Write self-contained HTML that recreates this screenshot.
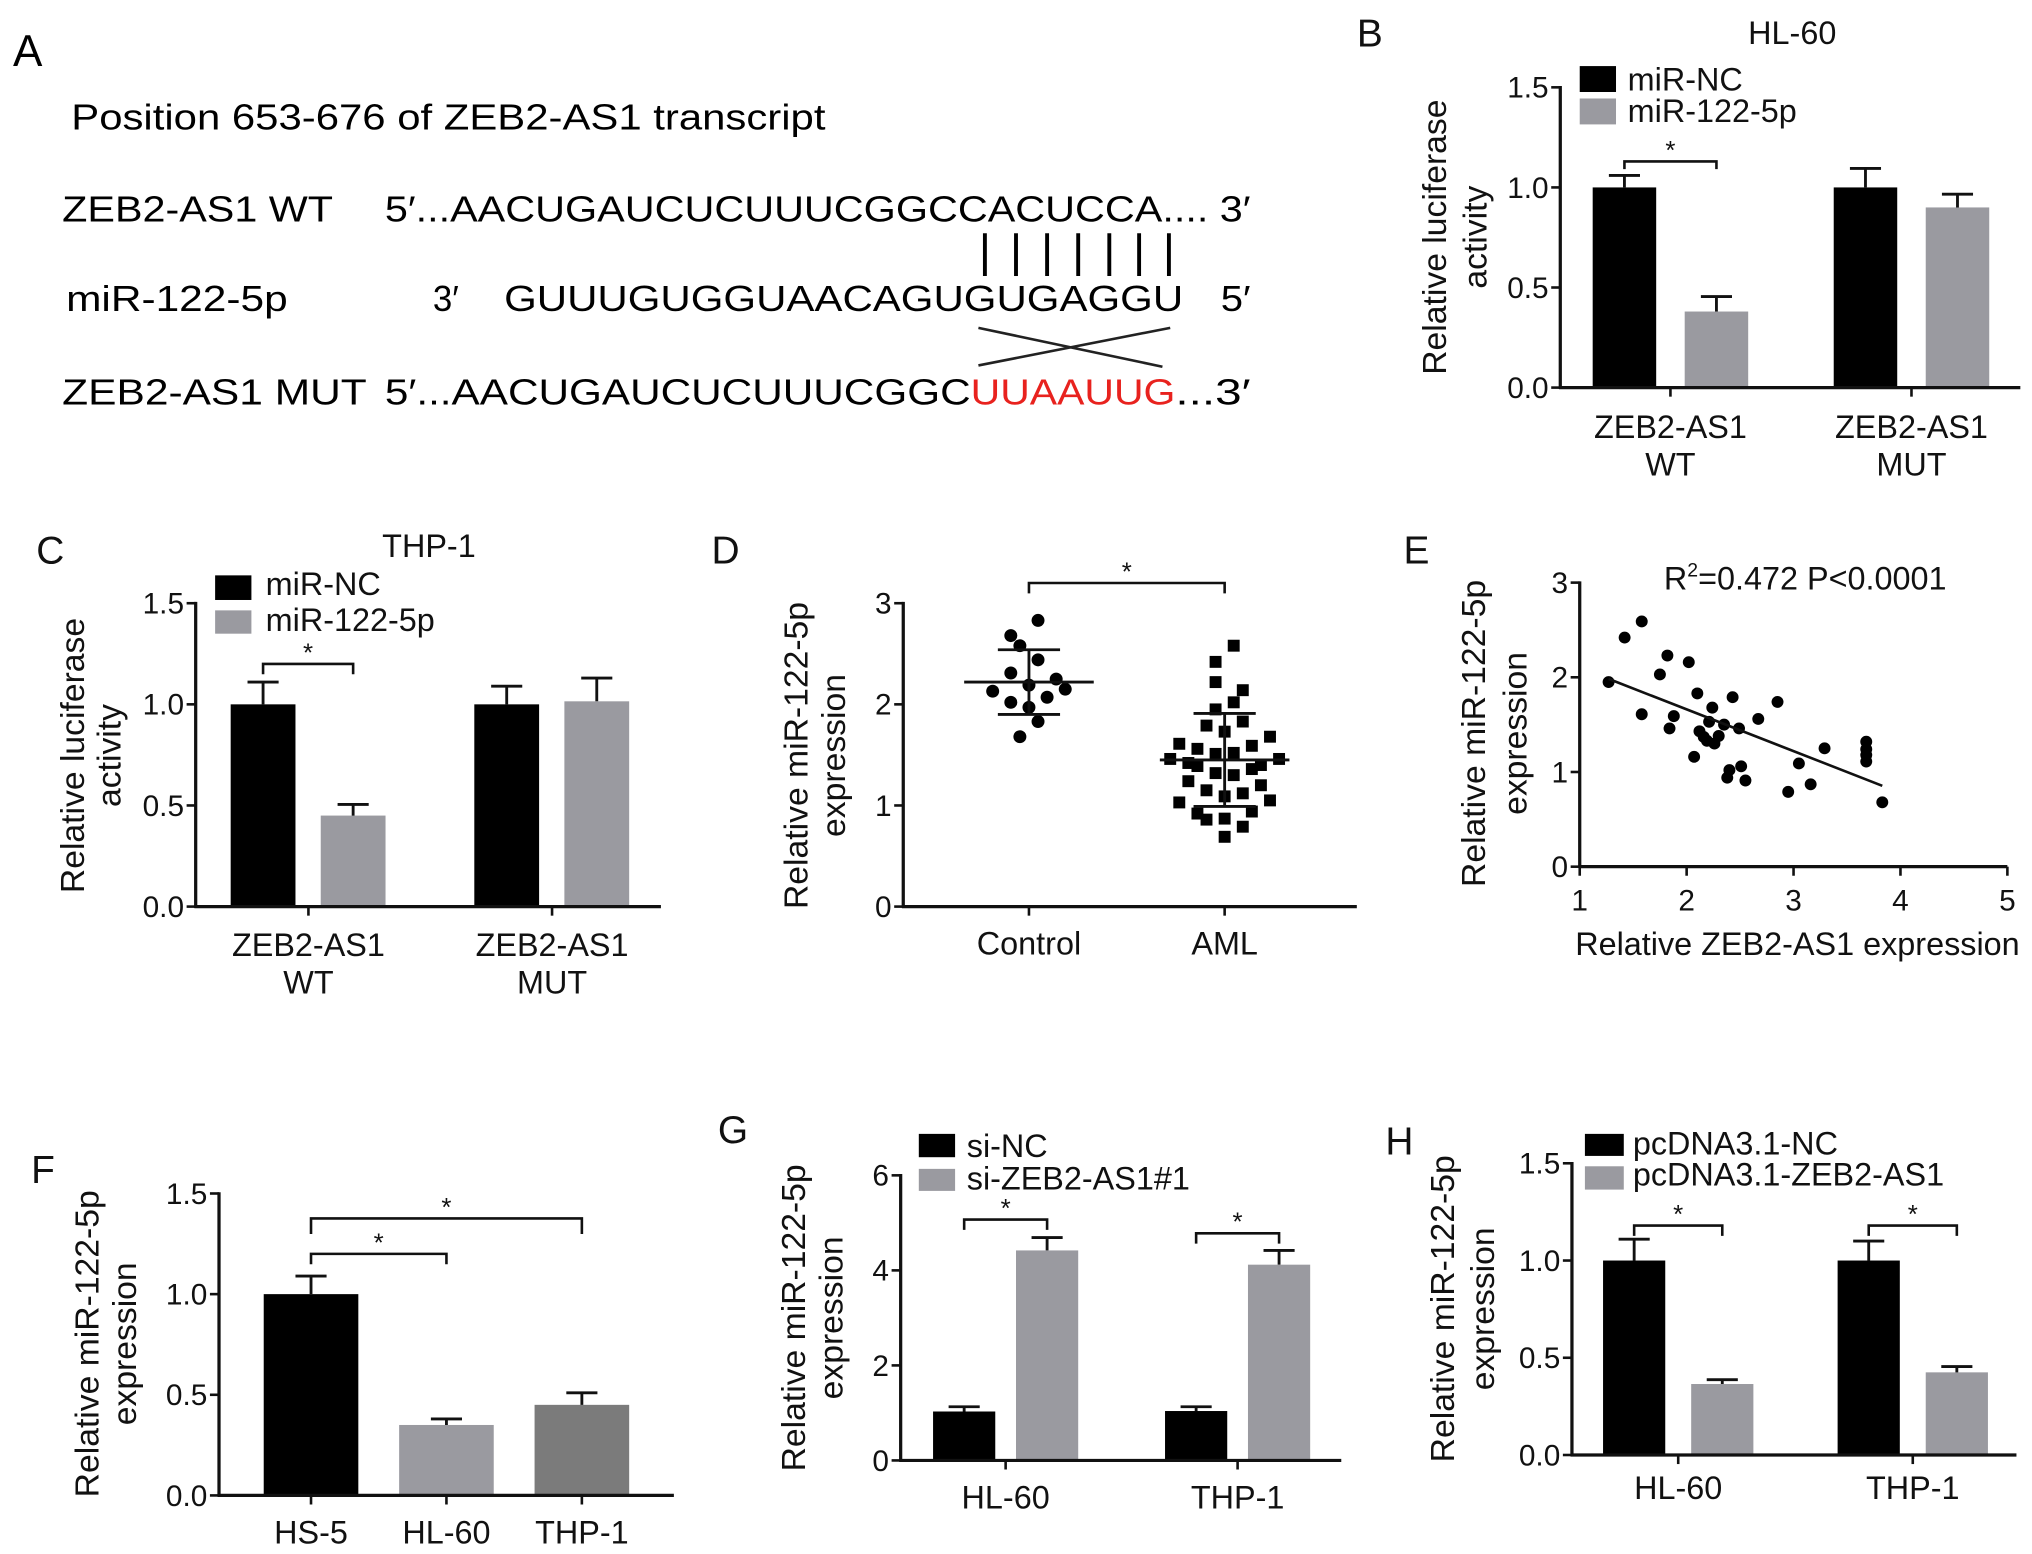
<!DOCTYPE html>
<html><head><meta charset="utf-8"><style>
html,body{margin:0;padding:0;background:#fff;}
svg{display:block;font-family:"Liberation Sans",Arial,sans-serif;}
</style></head><body>
<svg id="fig" width="2032" height="1554" viewBox="0 0 1568 1199.2" preserveAspectRatio="none" xmlns="http://www.w3.org/2000/svg">
<rect x="0" y="0" width="1568" height="1200" fill="#fff"/>
<g id="panel-a" fill="#000">
  <text x="10" y="51" font-size="34">A</text>
  <text x="55" y="100" font-size="28" textLength="582" lengthAdjust="spacingAndGlyphs">Position 653-676 of ZEB2-AS1 transcript</text>
  <text x="48" y="171" font-size="28" textLength="209" lengthAdjust="spacingAndGlyphs">ZEB2-AS1 WT</text>
  <text x="297" y="171" font-size="28" textLength="668" lengthAdjust="spacingAndGlyphs">5′...AACUGAUCUCUUUCGGCCACUCCA.... 3′</text>
  <g stroke="#000" stroke-width="3">
    <line x1="760" y1="180" x2="760" y2="213"/><line x1="784" y1="180" x2="784" y2="213"/><line x1="808" y1="180" x2="808" y2="213"/><line x1="832" y1="180" x2="832" y2="213"/><line x1="856" y1="180" x2="856" y2="213"/><line x1="879" y1="180" x2="879" y2="213"/><line x1="902" y1="180" x2="902" y2="213"/>
  </g>
  <text x="51" y="240" font-size="28" textLength="171" lengthAdjust="spacingAndGlyphs">miR-122-5p</text>
  <text x="334" y="240" font-size="28" textLength="20" lengthAdjust="spacingAndGlyphs">3′</text>
  <text x="389" y="240" font-size="28" textLength="524" lengthAdjust="spacingAndGlyphs">GUUUGUGGUAACAGUGUGAGGU</text>
  <text x="942" y="240" font-size="28" textLength="23" lengthAdjust="spacingAndGlyphs">5′</text>
  <g stroke="#222" stroke-width="2">
    <line x1="755" y1="253" x2="897" y2="283"/><line x1="755" y1="282" x2="903" y2="253"/>
  </g>
  <text x="48" y="312" font-size="28" textLength="235" lengthAdjust="spacingAndGlyphs">ZEB2-AS1 MUT</text>
  <text x="297" y="312" font-size="28" textLength="452" lengthAdjust="spacingAndGlyphs">5′...AACUGAUCUCUUUCGGC</text>
  <text x="749" y="312" font-size="28" fill="#e8221e" textLength="158" lengthAdjust="spacingAndGlyphs">UUAAUUG</text>
  <text x="907" y="312" font-size="28" textLength="58" lengthAdjust="spacingAndGlyphs">...3′</text>
</g>
<g id="charts"></g>
</svg>
<script>
// ---- data ----
const bCats = ['ZEB2-AS1|WT', 'ZEB2-AS1|MUT'];
const bNC = [1.0, 1.0];
const bNCerr = [0.06, 0.095];
const bMiR = [0.38, 0.90];
const bMiRerr = [0.075, 0.066];
const bTicks = [0, 0.5, 1.0, 1.5];
const bTickLabels = ['0.0', '0.5', '1.0', '1.5'];

const cCats = ['ZEB2-AS1|WT', 'ZEB2-AS1|MUT'];
const cNC = [1.0, 1.0];
const cNCerr = [0.11, 0.09];
const cMiR = [0.45, 1.015];
const cMiRerr = [0.055, 0.115];
const cTicks = [0, 0.5, 1.0, 1.5];
const cTickLabels = ['0.0', '0.5', '1.0', '1.5'];

const dCats = ['Control', 'AML'];
const dControl = [2.83, 2.68, 2.58, 2.44, 2.31, 2.25, 2.15, 2.13, 2.19, 2.07, 2.02, 1.97, 1.83, 1.68];
const dControlJitter = [1, -2, -1, 1, -2, 3, 4, -4, 0, 2, -2, 0, 1, -1];
const dAML = [2.58, 2.42, 2.22, 2.14, 2.02, 1.95, 1.79, 1.83, 1.73, 1.68, 1.61, 1.56, 1.59, 1.51, 1.52, 1.46, 1.42, 1.39, 1.46, 1.40, 1.36, 1.32, 1.30, 1.24, 1.20, 1.15, 1.09, 1.12, 1.05, 1.03, 0.92, 0.86, 0.87, 0.94, 0.79, 0.69];
const dAMLJitter = [1, -1, -1, 2, 1, -1, -2, 2, 0, 5, -5, -3, 3, -1, 1, -6, -4, -3, 6, 4, 3, -1, 1, -4, 4, -2, 0, 2, 5, -5, -3, -2, 0, 3, 2, 0];
const dMean = [2.22, 1.45];
const dSD = [0.32, 0.46];
const dTicks = [0, 1, 2, 3];

const eX = [1.58, 1.42, 1.82, 2.02, 1.75, 1.27, 2.10, 2.43, 2.24, 2.85, 1.58, 1.88, 2.67, 1.84, 2.21, 2.35, 2.49, 2.12, 2.16, 2.30, 2.19, 2.26, 3.29, 3.68, 3.68, 3.68, 3.68, 2.07, 3.05, 2.51, 2.40, 2.38, 2.55, 3.16, 2.95, 3.83];
const eY = [2.59, 2.42, 2.23, 2.16, 2.03, 1.95, 1.83, 1.79, 1.68, 1.74, 1.61, 1.59, 1.56, 1.46, 1.53, 1.50, 1.46, 1.43, 1.37, 1.38, 1.33, 1.30, 1.25, 1.32, 1.24, 1.18, 1.11, 1.16, 1.09, 1.06, 1.02, 0.94, 0.91, 0.87, 0.79, 0.68];
const eXTicks = [1, 2, 3, 4, 5];
const eYTicks = [0, 1, 2, 3];

const fCats = ['HS-5', 'HL-60', 'THP-1'];
const fVals = [1.0, 0.35, 0.45];
const fErr = [0.09, 0.03, 0.06];
const fTicks = [0, 0.5, 1.0, 1.5];
const fTickLabels = ['0.0', '0.5', '1.0', '1.5'];

const gCats = ['HL-60', 'THP-1'];
const gNC = [1.03, 1.04];
const gNCerr = [0.1, 0.09];
const gSi = [4.42, 4.12];
const gSiErr = [0.27, 0.3];
const gTicks = [0, 2, 4, 6];

const hCats = ['HL-60', 'THP-1'];
const hNC = [1.0, 1.0];
const hNCerr = [0.11, 0.10];
const hPc = [0.365, 0.425];
const hPcErr = [0.022, 0.03];
const hTicks = [0, 0.5, 1.0, 1.5];
const hTickLabels = ['0.0', '0.5', '1.0', '1.5'];

// ---- helpers ----
const NS = 'http://www.w3.org/2000/svg';
const root = document.getElementById('charts');
function el(tag, attrs, parent) {
  const e = document.createElementNS(NS, tag);
  for (const k in attrs) e.setAttribute(k, attrs[k]);
  (parent || root).appendChild(e);
  return e;
}
function linScale(d0, d1, r0, r1) { return v => r0 + (v - d0) * (r1 - r0) / (d1 - d0); }
const BLACK = '#000', GRAY = '#9a9aa0', DGRAY = '#7b7b7b';
const FS = 23, FS_LABEL = 25, FS_TITLE = 26, FS_LEG = 25;

function panelGroup(name) {
  const g = el('g', {});
  
  
  return g;
}
function txt(g, x, y, s, size, anchor, name, extra) {
  const t = el('text', Object.assign({x: x, y: y, 'font-size': size, 'text-anchor': anchor || 'start', fill: '#111'}, extra || {}), g);
  t.textContent = s;
  
  
  return t;
}
function line(g, x1, y1, x2, y2, w, name) {
  const l = el('line', {x1: x1, y1: y1, x2: x2, y2: y2, stroke: '#111', 'stroke-width': w}, g);
  
  
  return l;
}
function rotLabel(g, cx, cy, lines, name) {
  lines.forEach((s, i) => {
    const t = el('text', {transform: 'translate(' + (cx[i] + 9) + ',' + cy + ') rotate(-90)', 'font-size': FS_TITLE, 'text-anchor': 'middle', fill: '#111'}, g);
    t.textContent = s;
    
    
  });
}
function yAxis(g, ax, sy, ticks, labels, name) {
  line(g, ax, sy(ticks[ticks.length - 1]) - 1, ax, sy(ticks[0]) + 1, 2.5, name + '-y-axis');
  ticks.forEach((t, i) => {
    line(g, ax - 7, sy(t), ax, sy(t), 2, name + '-y-tick');
    txt(g, ax - 9, sy(t) + 8, labels[i], FS, 'end', name + '-y-tick-label');
  });
}
function xAxis(g, ax, xEnd, y0, centers, name) {
  line(g, ax - 1, y0, xEnd, y0, 2.5, name + '-x-axis');
  centers.forEach(c => line(g, c, y0, c, y0 + 7, 2, name + '-x-tick'));
}
function catLabels(g, centers, cats, y0, dy, name) {
  cats.forEach((c, i) => {
    c.split('|').forEach((s, j) => txt(g, centers[i], y0 + dy + j * 29, s, FS_LABEL, 'middle', name + '-x-label'));
  });
}
function bar(g, cx, w, v, err, sy, color, name) {
  const r = el('rect', {x: cx - w / 2, y: sy(v), width: w, height: sy(0) - sy(v), fill: color}, g);
  
  
  const eb = el('path', {d: 'M' + cx + ',' + sy(v) + 'V' + sy(v + err) + 'M' + (cx - 12) + ',' + sy(v + err) + 'H' + (cx + 12), stroke: '#111', 'stroke-width': 2.2, fill: 'none'}, g);
  
  
}
function bracket(g, x1, x2, yv, sy, drop1, drop2, name) {
  const y = sy(yv);
  const p = el('path', {d: 'M' + x1 + ',' + (y + drop1) + 'V' + y + 'H' + x2 + 'V' + (y + drop2), stroke: '#111', 'stroke-width': 2, fill: 'none'}, g);
  
  
  txt(g, (x1 + x2) / 2, y - 2, '*', 20, 'middle', name + '-star');
}
function legendEntry(g, x, y, w, h, color, tx, ty, s, name) {
  const r = el('rect', {x: x, y: y, width: w, height: h, fill: color}, g);
  
  
  txt(g, tx, ty, s, FS_LEG, 'start', name + '-label');
}

// ---- Panel B ----
(function () {
  const g = panelGroup('panel-b');
  const sy = linScale(0, 1.5, 299.1, 67.4);
  const centers = bCats.map((c, i) => 1289 + i * 186);
  txt(g, 1047, 36, 'B', 30, 'start', 'panel-b-letter');
  txt(g, 1383, 34, 'HL-60', FS_LABEL, 'middle', 'panel-b-title');
  legendEntry(g, 1219, 51, 28, 20, BLACK, 1256, 70, 'miR-NC', 'legend-mir-nc');
  legendEntry(g, 1219, 76, 28, 20, GRAY, 1256, 94, 'miR-122-5p', 'legend-mir-122');
  centers.forEach((c, i) => {
    bar(g, c - 35.5, 49, bNC[i], bNCerr[i], sy, BLACK, 'bar-mir-nc-' + i);
    bar(g, c + 35.5, 49, bMiR[i], bMiRerr[i], sy, GRAY, 'bar-mir-122-' + i);
  });
  yAxis(g, 1204, sy, bTicks, bTickLabels, 'panel-b');
  xAxis(g, 1204, 1559, sy(0), centers, 'panel-b');
  catLabels(g, centers, bCats, sy(0), 39, 'panel-b');
  bracket(g, centers[0] - 35.5, centers[0] + 35.5, 1.13, sy, 6, 6, 'panel-b-significance');
  rotLabel(g, [1107, 1138], 183, ['Relative luciferase', 'activity'], 'panel-b-y-title');
})();

// ---- Panel C ----
(function () {
  const g = panelGroup('panel-c');
  const sy = linScale(0, 1.5, 699.6, 465.5);
  const centers = cCats.map((c, i) => 238 + i * 188);
  txt(g, 28, 435, 'C', 30, 'start', 'panel-c-letter');
  txt(g, 331, 430, 'THP-1', FS_LABEL, 'middle', 'panel-c-title');
  legendEntry(g, 166, 444, 28, 19, BLACK, 205, 459, 'miR-NC', 'legend-mir-nc');
  legendEntry(g, 166, 471, 28, 18, GRAY, 205, 487, 'miR-122-5p', 'legend-mir-122');
  centers.forEach((c, i) => {
    bar(g, c - 35, 50, cNC[i], cNCerr[i], sy, BLACK, 'bar-mir-nc-' + i);
    bar(g, c + 34.5, 50, cMiR[i], cMiRerr[i], sy, GRAY, 'bar-mir-122-' + i);
  });
  yAxis(g, 151, sy, cTicks, cTickLabels, 'panel-c');
  xAxis(g, 151, 510, sy(0), centers, 'panel-c');
  catLabels(g, centers, cCats, sy(0), 38, 'panel-c');
  bracket(g, centers[0] - 35, centers[0] + 34.5, 1.2, sy, 8, 8, 'panel-c-significance');
  rotLabel(g, [56, 84], 583, ['Relative luciferase', 'activity'], 'panel-c-y-title');
})();

// ---- Panel D ----
(function () {
  const g = panelGroup('panel-d');
  const sy = linScale(0, 3, 699.6, 465.5);
  const centers = dCats.map((c, i) => 794 + i * 151);
  const jit = 7;
  txt(g, 549, 435, 'D', 30, 'start', 'panel-d-letter');
  yAxis(g, 697, sy, dTicks, dTicks.map(String), 'panel-d');
  xAxis(g, 697, 1047, sy(0), centers, 'panel-d');
  catLabels(g, centers, dCats, sy(0), 37, 'panel-d');
  dControl.forEach((v, i) => {
    const c = el('circle', {cx: centers[0] + dControlJitter[i] * jit, cy: sy(v), r: 5, fill: '#000'}, g);
    
    
  });
  dAML.forEach((v, i) => {
    const s = el('rect', {x: centers[1] + dAMLJitter[i] * jit - 4.6, y: sy(v) - 4.6, width: 9.2, height: 9.2, fill: '#000'}, g);
    
    
  });
  [0, 1].forEach(i => {
    const c = centers[i];
    line(g, c - 50, sy(dMean[i]), c + 50, sy(dMean[i]), 2.2, 'mean-line-' + dCats[i].toLowerCase());
    line(g, c - 24, sy(dMean[i] + dSD[i]), c + 24, sy(dMean[i] + dSD[i]), 2.2, 'sd-upper-' + dCats[i].toLowerCase());
    line(g, c - 24, sy(dMean[i] - dSD[i]), c + 24, sy(dMean[i] - dSD[i]), 2.2, 'sd-lower-' + dCats[i].toLowerCase());
    line(g, c, sy(dMean[i] + dSD[i]), c, sy(dMean[i] - dSD[i]), 2.2, 'sd-vertical-' + dCats[i].toLowerCase());
  });
  bracket(g, centers[0], centers[1], 3.2, sy, 8, 8, 'panel-d-significance');
  rotLabel(g, [614, 643], 583, ['Relative miR-122-5p', 'expression'], 'panel-d-y-title');
})();

// ---- Panel E ----
(function () {
  const g = panelGroup('panel-e');
  const sx = linScale(1, 5, 1219, 1549);
  const sy = linScale(0, 3, 668.8, 449.6);
  txt(g, 1083, 435, 'E', 30, 'start', 'panel-e-letter');
  const t = txt(g, 1393, 455, 'R', FS_LABEL, 'middle', 'panel-e-stat');
  const sup = el('tspan', {'font-size': 15, dy: -10}, t);
  sup.textContent = '2';
  
  
  const rest = el('tspan', {dy: 10}, t);
  rest.textContent = '=0.472 P<0.0001';
  
  
  yAxis(g, 1219, sy, eYTicks, eYTicks.map(String), 'panel-e');
  line(g, 1218, sy(0), sx(5), sy(0), 2.5, 'panel-e-x-axis');
  eXTicks.forEach(v => {
    line(g, sx(v), sy(0), sx(v), sy(0) + 7, 2, 'panel-e-x-tick');
    txt(g, sx(v), sy(0) + 34, String(v), FS, 'middle', 'panel-e-x-tick-label');
  });
  txt(g, 1387, 737, 'Relative ZEB2-AS1 expression', FS_LABEL, 'middle', 'panel-e-x-title');
  rotLabel(g, [1137, 1169], 566, ['Relative miR-122-5p', 'expression'], 'panel-e-y-title');
  eX.forEach((x, i) => {
    const c = el('circle', {cx: sx(x), cy: sy(eY[i]), r: 4.6, fill: '#000'}, g);
    
    
  });
  const n = eX.length;
  const mx = eX.reduce((a, b) => a + b, 0) / n, my = eY.reduce((a, b) => a + b, 0) / n;
  let sxy = 0, sxx = 0;
  eX.forEach((x, i) => { sxy += (x - mx) * (eY[i] - my); sxx += (x - mx) * (x - mx); });
  const slope = sxy / sxx, icp = my - slope * mx;
  const x0 = Math.min(...eX), x1 = Math.max(...eX);
  line(g, sx(x0), sy(icp + slope * x0), sx(x1), sy(icp + slope * x1), 2, 'regression-line');
})();

// ---- Panel F ----
(function () {
  const g = panelGroup('panel-f');
  const sy = linScale(0, 1.5, 1154, 921);
  const centers = fCats.map((c, i) => 240 + i * 104.5);
  const colors = [BLACK, GRAY, DGRAY];
  txt(g, 24, 913, 'F', 30, 'start', 'panel-f-letter');
  fVals.forEach((v, i) => bar(g, centers[i], 73, v, fErr[i], sy, colors[i], 'bar-' + fCats[i].toLowerCase()));
  yAxis(g, 169, sy, fTicks, fTickLabels, 'panel-f');
  xAxis(g, 169, 520, sy(0), centers, 'panel-f');
  catLabels(g, centers, fCats, sy(0), 37, 'panel-f');
  bracket(g, centers[0], centers[1], 1.2, sy, 8, 8, 'panel-f-significance-hl60');
  bracket(g, centers[0], centers[2], 1.376, sy, 12, 12, 'panel-f-significance-thp1');
  rotLabel(g, [67, 96], 1037, ['Relative miR-122-5p', 'expression'], 'panel-f-y-title');
})();

// ---- Panel G ----
(function () {
  const g = panelGroup('panel-g');
  const sy = linScale(0, 6, 1127, 907);
  const centers = gCats.map((c, i) => 776 + i * 179);
  txt(g, 554, 882, 'G', 30, 'start', 'panel-g-letter');
  legendEntry(g, 709, 875, 28, 18, BLACK, 746, 893, 'si-NC', 'legend-si-nc');
  legendEntry(g, 709, 902, 28, 17, GRAY, 746, 918, 'si-ZEB2-AS1#1', 'legend-si-zeb2');
  centers.forEach((c, i) => {
    bar(g, c - 32, 48, gNC[i], gNCerr[i], sy, BLACK, 'bar-si-nc-' + i);
    bar(g, c + 32, 48, gSi[i], gSiErr[i], sy, GRAY, 'bar-si-zeb2-' + i);
  });
  yAxis(g, 695, sy, gTicks, gTicks.map(String), 'panel-g');
  xAxis(g, 695, 1035, sy(0), centers, 'panel-g');
  catLabels(g, centers, gCats, sy(0), 37, 'panel-g');
  bracket(g, centers[0] - 32, centers[0] + 32, 5.07, sy, 8, 8, 'panel-g-significance-hl60');
  bracket(g, centers[1] - 32, centers[1] + 32, 4.78, sy, 8, 8, 'panel-g-significance-thp1');
  rotLabel(g, [612, 641], 1017, ['Relative miR-122-5p', 'expression'], 'panel-g-y-title');
})();

// ---- Panel H ----
(function () {
  const g = panelGroup('panel-h');
  const sy = linScale(0, 1.5, 1122.8, 897.7);
  const centers = hCats.map((c, i) => 1295 + i * 181);
  txt(g, 1069, 891, 'H', 30, 'start', 'panel-h-letter');
  legendEntry(g, 1223, 875, 30, 17, BLACK, 1260, 891, 'pcDNA3.1-NC', 'legend-pcdna-nc');
  legendEntry(g, 1223, 900, 30, 18, GRAY, 1260, 915, 'pcDNA3.1-ZEB2-AS1', 'legend-pcdna-zeb2');
  centers.forEach((c, i) => {
    bar(g, c - 34, 48, hNC[i], hNCerr[i], sy, BLACK, 'bar-pcdna-nc-' + i);
    bar(g, c + 34, 48, hPc[i], hPcErr[i], sy, GRAY, 'bar-pcdna-zeb2-' + i);
  });
  yAxis(g, 1213, sy, hTicks, hTickLabels, 'panel-h');
  xAxis(g, 1213, 1556, sy(0), centers, 'panel-h');
  catLabels(g, centers, hCats, sy(0), 34, 'panel-h');
  bracket(g, centers[0] - 34, centers[0] + 34, 1.18, sy, 8, 8, 'panel-h-significance-hl60');
  bracket(g, centers[1] - 34, centers[1] + 34, 1.18, sy, 8, 8, 'panel-h-significance-thp1');
  rotLabel(g, [1113, 1144], 1010, ['Relative miR-122-5p', 'expression'], 'panel-h-y-title');
})();
</script>
</body></html>
